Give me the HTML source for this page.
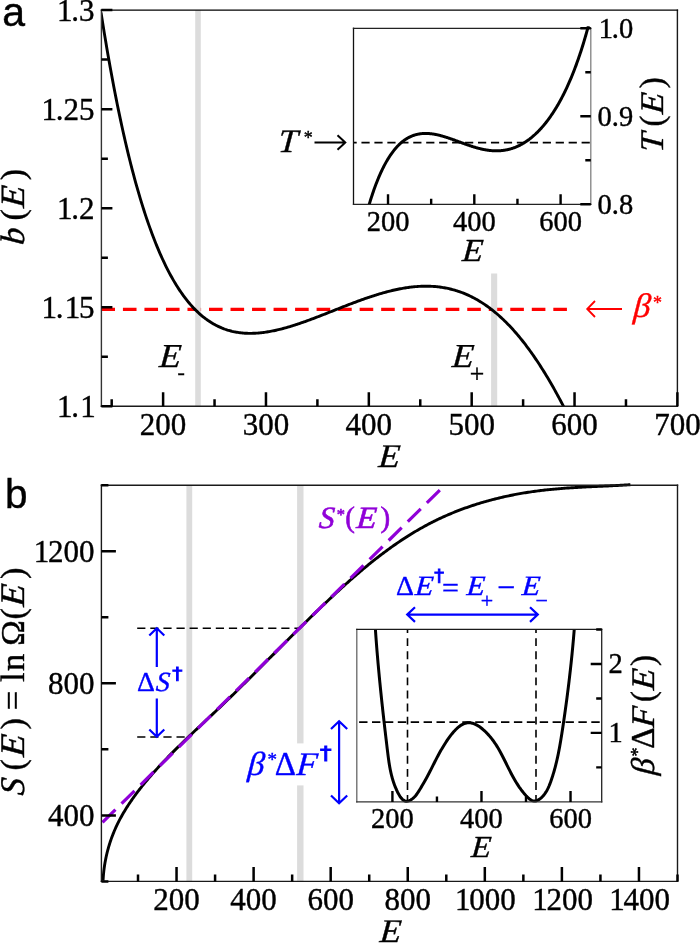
<!DOCTYPE html>
<html><head><meta charset="utf-8"><title>b(E) and S(E)</title>
<style>
html,body{margin:0;padding:0;background:#fff;}
svg{display:block;}
</style></head>
<body>
<svg width="700" height="943" viewBox="0 0 700 943" font-family="'Liberation Serif','Times New Roman',serif">
<rect width="700" height="943" fill="#fff"/>
<clipPath id="ca"><rect x="101.4" y="8.1" width="576.0" height="398.09999999999997"/></clipPath>
<line x1="101.4" y1="309.4" x2="567" y2="309.4" stroke="#ff0000" stroke-width="3.4" stroke-dasharray="13.6 7.92"/>
<rect x="195.2" y="10.1" width="5.6" height="396.09999999999997" fill="#dcdcdc"/>
<rect x="491.1" y="273.5" width="6.1" height="132.7" fill="#dcdcdc"/>
<path clip-path="url(#ca)" d="M101.00,12.46 L102.16,19.82 L103.32,27.04 L104.48,34.14 L105.64,41.11 L106.80,47.95 L107.96,54.67 L109.12,61.27 L110.28,67.74 L111.44,74.10 L112.60,80.34 L113.76,86.47 L114.92,92.48 L116.08,98.38 L117.24,104.17 L118.40,109.85 L119.56,115.42 L120.72,120.89 L121.88,126.25 L123.04,131.51 L124.20,136.67 L125.36,141.73 L126.52,146.69 L127.68,151.56 L128.84,156.33 L130.00,161.00 L131.16,165.58 L132.32,170.08 L133.48,174.48 L134.64,178.79 L135.80,183.02 L136.96,187.16 L138.12,191.21 L139.28,195.18 L140.44,199.07 L141.60,202.88 L142.76,206.61 L143.92,210.26 L145.08,213.84 L146.24,217.34 L147.40,220.76 L148.56,224.11 L149.72,227.39 L150.88,230.60 L152.04,233.73 L153.20,236.80 L154.36,239.80 L155.52,242.73 L156.68,245.60 L157.84,248.40 L158.99,251.14 L160.15,253.81 L161.31,256.42 L162.47,258.98 L163.63,261.47 L164.79,263.90 L165.95,266.28 L167.11,268.60 L168.27,270.86 L169.43,273.07 L170.59,275.22 L171.75,277.32 L172.91,279.37 L174.07,281.36 L175.23,283.31 L176.39,285.20 L177.55,287.05 L178.71,288.84 L179.87,290.59 L181.03,292.30 L182.19,293.95 L183.35,295.57 L184.51,297.13 L185.67,298.66 L186.83,300.14 L187.99,301.58 L189.15,302.98 L190.31,304.33 L191.47,305.65 L192.63,306.93 L193.79,308.17 L194.95,309.37 L196.11,310.53 L197.27,311.66 L198.43,312.75 L199.59,313.81 L200.75,314.83 L201.91,315.81 L203.07,316.77 L204.23,317.69 L205.39,318.57 L206.55,319.43 L207.71,320.26 L208.87,321.05 L210.03,321.81 L211.19,322.55 L212.35,323.25 L213.51,323.93 L214.67,324.58 L215.83,325.20 L216.99,325.80 L218.15,326.37 L219.31,326.91 L220.47,327.42 L221.63,327.92 L222.79,328.38 L223.95,328.83 L225.11,329.25 L226.27,329.64 L227.43,330.02 L228.59,330.37 L229.75,330.70 L230.91,331.01 L232.07,331.30 L233.23,331.56 L234.39,331.81 L235.55,332.04 L236.71,332.24 L237.87,332.43 L239.03,332.60 L240.19,332.75 L241.35,332.89 L242.51,333.00 L243.67,333.10 L244.83,333.19 L245.99,333.25 L247.15,333.30 L248.31,333.34 L249.47,333.35 L250.63,333.36 L251.79,333.35 L252.95,333.32 L254.11,333.28 L255.27,333.23 L256.43,333.16 L257.59,333.08 L258.75,332.98 L259.91,332.88 L261.07,332.76 L262.23,332.63 L263.39,332.49 L264.55,332.33 L265.71,332.17 L266.87,331.99 L268.03,331.80 L269.19,331.60 L270.35,331.40 L271.51,331.18 L272.67,330.95 L273.83,330.71 L274.98,330.46 L276.14,330.21 L277.30,329.94 L278.46,329.67 L279.62,329.39 L280.78,329.10 L281.94,328.80 L283.10,328.50 L284.26,328.18 L285.42,327.86 L286.58,327.54 L287.74,327.20 L288.90,326.86 L290.06,326.52 L291.22,326.16 L292.38,325.80 L293.54,325.44 L294.70,325.07 L295.86,324.69 L297.02,324.31 L298.18,323.93 L299.34,323.53 L300.50,323.14 L301.66,322.74 L302.82,322.33 L303.98,321.92 L305.14,321.51 L306.30,321.09 L307.46,320.67 L308.62,320.25 L309.78,319.82 L310.94,319.39 L312.10,318.96 L313.26,318.52 L314.42,318.09 L315.58,317.64 L316.74,317.20 L317.90,316.76 L319.06,316.31 L320.22,315.86 L321.38,315.41 L322.54,314.95 L323.70,314.50 L324.86,314.05 L326.02,313.59 L327.18,313.13 L328.34,312.67 L329.50,312.22 L330.66,311.76 L331.82,311.30 L332.98,310.84 L334.14,310.38 L335.30,309.92 L336.46,309.46 L337.62,309.00 L338.78,308.54 L339.94,308.09 L341.10,307.63 L342.26,307.17 L343.42,306.72 L344.58,306.27 L345.74,305.81 L346.90,305.36 L348.06,304.92 L349.22,304.47 L350.38,304.02 L351.54,303.58 L352.70,303.14 L353.86,302.70 L355.02,302.27 L356.18,301.84 L357.34,301.41 L358.50,300.98 L359.66,300.55 L360.82,300.13 L361.98,299.72 L363.14,299.30 L364.30,298.89 L365.46,298.49 L366.62,298.09 L367.78,297.69 L368.94,297.29 L370.10,296.90 L371.26,296.52 L372.42,296.14 L373.58,295.76 L374.74,295.39 L375.90,295.03 L377.06,294.67 L378.22,294.31 L379.38,293.96 L380.54,293.62 L381.70,293.28 L382.86,292.95 L384.02,292.63 L385.18,292.31 L386.34,291.99 L387.50,291.69 L388.66,291.39 L389.82,291.09 L390.97,290.81 L392.13,290.53 L393.29,290.26 L394.45,289.99 L395.61,289.74 L396.77,289.49 L397.93,289.25 L399.09,289.01 L400.25,288.79 L401.41,288.57 L402.57,288.36 L403.73,288.16 L404.89,287.97 L406.05,287.79 L407.21,287.62 L408.37,287.45 L409.53,287.30 L410.69,287.15 L411.85,287.02 L413.01,286.89 L414.17,286.78 L415.33,286.67 L416.49,286.58 L417.65,286.49 L418.81,286.42 L419.97,286.35 L421.13,286.30 L422.29,286.26 L423.45,286.23 L424.61,286.21 L425.77,286.20 L426.93,286.20 L428.09,286.22 L429.25,286.25 L430.41,286.29 L431.57,286.34 L432.73,286.41 L433.89,286.48 L435.05,286.57 L436.21,286.67 L437.37,286.79 L438.53,286.92 L439.69,287.06 L440.85,287.22 L442.01,287.39 L443.17,287.57 L444.33,287.77 L445.49,287.98 L446.65,288.20 L447.81,288.44 L448.97,288.70 L450.13,288.97 L451.29,289.25 L452.45,289.55 L453.61,289.87 L454.77,290.20 L455.93,290.54 L457.09,290.90 L458.25,291.28 L459.41,291.67 L460.57,292.08 L461.73,292.51 L462.89,292.95 L464.05,293.41 L465.21,293.88 L466.37,294.37 L467.53,294.88 L468.69,295.41 L469.85,295.95 L471.01,296.51 L472.17,297.09 L473.33,297.68 L474.49,298.30 L475.65,298.93 L476.81,299.58 L477.97,300.25 L479.13,300.93 L480.29,301.64 L481.45,302.36 L482.61,303.10 L483.77,303.86 L484.93,304.64 L486.09,305.44 L487.25,306.26 L488.41,307.10 L489.57,307.95 L490.73,308.83 L491.89,309.73 L493.05,310.64 L494.21,311.58 L495.37,312.53 L496.53,313.51 L497.69,314.51 L498.85,315.52 L500.01,316.56 L501.17,317.62 L502.33,318.70 L503.49,319.80 L504.65,320.92 L505.81,322.06 L506.96,323.22 L508.12,324.41 L509.28,325.61 L510.44,326.84 L511.60,328.08 L512.76,329.35 L513.92,330.64 L515.08,331.95 L516.24,333.29 L517.40,334.64 L518.56,336.02 L519.72,337.42 L520.88,338.84 L522.04,340.28 L523.20,341.75 L524.36,343.23 L525.52,344.74 L526.68,346.27 L527.84,347.83 L529.00,349.40 L530.16,351.00 L531.32,352.62 L532.48,354.26 L533.64,355.92 L534.80,357.61 L535.96,359.32 L537.12,361.05 L538.28,362.80 L539.44,364.57 L540.60,366.37 L541.76,368.19 L542.92,370.03 L544.08,371.89 L545.24,373.78 L546.40,375.68 L547.56,377.61 L548.72,379.56 L549.88,381.54 L551.04,383.53 L552.20,385.55 L553.36,387.58 L554.52,389.64 L555.68,391.73 L556.84,393.83 L558.00,395.95 L559.16,398.10 L560.32,400.26 L561.48,402.45 L562.64,404.66 L563.80,406.88" fill="none" stroke="#000" stroke-width="2.9"/>
<path d="M101.4,9.4V406.9" stroke="#333" stroke-width="1.4"/><path d="M677.4,9.4V406.9" stroke="#1a1a1a" stroke-width="1.4"/><path d="M100.7,10.1H678.1" stroke="#000" stroke-width="1.4"/><path d="M100.7,406.2H678.1" stroke="#1a1a1a" stroke-width="1.4"/>
<path d="M101.4,406.20h11 M101.4,356.69h6.5 M101.4,307.17h11 M101.4,257.66h6.5 M101.4,208.15h11 M101.4,158.64h6.5 M101.4,109.13h11 M101.4,59.61h6.5 M101.4,10.10h11 M111.69,406.2v-7 M163.11,406.2v-14 M214.54,406.2v-7 M265.97,406.2v-14 M317.40,406.2v-7 M368.83,406.2v-14 M420.26,406.2v-7 M471.69,406.2v-14 M523.11,406.2v-7 M574.54,406.2v-14 M625.97,406.2v-7 M677.40,406.2v-14" stroke="#000" stroke-width="2.5"/>
<text y="417.20" font-size="31" fill="#000" stroke="#000" stroke-width="0.4"><tspan x="57.05">1</tspan><tspan x="71.25">.</tspan><tspan x="80.30">1</tspan></text>
<text y="318.18" font-size="31" fill="#000" stroke="#000" stroke-width="0.4"><tspan x="41.55">1</tspan><tspan x="55.75">.</tspan><tspan x="64.80">1</tspan><tspan x="79.00">5</tspan></text>
<text y="219.15" font-size="31" fill="#000" stroke="#000" stroke-width="0.4"><tspan x="57.05">1</tspan><tspan x="71.25">.</tspan><tspan x="79.00">2</tspan></text>
<text y="120.13" font-size="31" fill="#000" stroke="#000" stroke-width="0.4"><tspan x="41.55">1</tspan><tspan x="55.75">.</tspan><tspan x="63.50">2</tspan><tspan x="79.00">5</tspan></text>
<text y="21.10" font-size="31" fill="#000" stroke="#000" stroke-width="0.4"><tspan x="57.05">1</tspan><tspan x="71.25">.</tspan><tspan x="79.00">3</tspan></text>
<text y="434.70" font-size="31" fill="#000" stroke="#000" stroke-width="0.4"><tspan x="139.86">2</tspan><tspan x="155.36">0</tspan><tspan x="170.86">0</tspan></text>
<text y="434.70" font-size="31" fill="#000" stroke="#000" stroke-width="0.4"><tspan x="242.72">3</tspan><tspan x="258.22">0</tspan><tspan x="273.72">0</tspan></text>
<text y="434.70" font-size="31" fill="#000" stroke="#000" stroke-width="0.4"><tspan x="345.58">4</tspan><tspan x="361.08">0</tspan><tspan x="376.58">0</tspan></text>
<text y="434.70" font-size="31" fill="#000" stroke="#000" stroke-width="0.4"><tspan x="448.44">5</tspan><tspan x="463.94">0</tspan><tspan x="479.44">0</tspan></text>
<text y="434.70" font-size="31" fill="#000" stroke="#000" stroke-width="0.4"><tspan x="551.29">6</tspan><tspan x="566.79">0</tspan><tspan x="582.29">0</tspan></text>
<text y="434.70" font-size="31" fill="#000" stroke="#000" stroke-width="0.4"><tspan x="654.15">7</tspan><tspan x="669.65">0</tspan><tspan x="685.15">0</tspan></text>
<text transform="translate(378.09,467.10) skewX(-4.5) scale(1.06,1)" font-size="33" font-style="italic" fill="#000" stroke="#000" stroke-width="0.4">E</text>
<text transform="translate(23.8,1000) rotate(-90) translate(754.76,0.00) skewX(-4.5) scale(1.0,1)" font-size="34" font-style="italic" fill="#000" stroke="#000" stroke-width="0.4">b</text><text transform="translate(23.8,1000) rotate(-90) translate(779.40,0.00) skewX(0) scale(1.0,1)" font-size="34" fill="#000" stroke="#000" stroke-width="0.4">(</text><text transform="translate(23.8,1000) rotate(-90) translate(791.79,0.00) skewX(-4.5) scale(1.06,1)" font-size="34" font-style="italic" fill="#000" stroke="#000" stroke-width="0.4">E</text><text transform="translate(23.8,1000) rotate(-90) translate(819.77,0.00) skewX(0) scale(1.0,1)" font-size="34" fill="#000" stroke="#000" stroke-width="0.4">)</text>
<text fill="#000" stroke="#000" stroke-width="0.4"><tspan x="177.43" y="379.00" font-size="22">-</tspan></text><text transform="translate(158.69,366.80) skewX(-4.5) scale(1.06,1)" font-size="33.5" font-style="italic" fill="#000" stroke="#000" stroke-width="0.4">E</text>
<text fill="#000" stroke="#000" stroke-width="0.4"><tspan x="469.65" y="382.20" font-size="25.7">+</tspan></text><text transform="translate(451.49,366.80) skewX(-4.5) scale(1.06,1)" font-size="33.5" font-style="italic" fill="#000" stroke="#000" stroke-width="0.4">E</text>
<path d="M622,309 H587.5 M595,301 L587.2,309 L595,317" fill="none" stroke="#ff0000" stroke-width="1.8"/>
<text fill="#ff0000" stroke="#ff0000" stroke-width="0.4"><tspan x="653.12" y="308.80" font-size="18">*</tspan></text><text transform="translate(633.06,317.00) skewX(-4.5) scale(1.0,1)" font-size="34" font-style="italic" fill="#ff0000" stroke="#ff0000" stroke-width="0.4">β</text>
<text fill="#000" stroke="#000" stroke-width="0.4"><tspan x="2.25" y="25.60" font-size="41" font-family="'Liberation Sans',Arial,sans-serif">a</tspan></text>
<clipPath id="cia"><rect x="353.5" y="26.3" width="237.29999999999995" height="178.0"/></clipPath>
<rect x="353.5" y="28.3" width="237.29999999999995" height="176.0" fill="#fff"/>
<line x1="353.5" y1="142.6" x2="590.8" y2="142.6" stroke="#000" stroke-width="1.6" stroke-dasharray="8.2 4.75" stroke-dashoffset="5"/>
<path clip-path="url(#cia)" d="M368.80,205.72 L369.35,203.88 L369.90,202.07 L370.45,200.30 L371.00,198.56 L371.55,196.85 L372.10,195.18 L372.65,193.54 L373.20,191.92 L373.75,190.34 L374.30,188.79 L374.85,187.28 L375.40,185.79 L375.95,184.33 L376.51,182.90 L377.06,181.49 L377.61,180.12 L378.16,178.77 L378.71,177.45 L379.26,176.16 L379.81,174.90 L380.36,173.66 L380.91,172.44 L381.46,171.25 L382.01,170.09 L382.56,168.95 L383.11,167.84 L383.66,166.75 L384.21,165.68 L384.76,164.64 L385.31,163.62 L385.86,162.62 L386.41,161.64 L386.96,160.69 L387.51,159.76 L388.06,158.85 L388.61,157.96 L389.16,157.09 L389.71,156.24 L390.26,155.41 L390.82,154.60 L391.37,153.81 L391.92,153.04 L392.47,152.29 L393.02,151.56 L393.57,150.85 L394.12,150.15 L394.67,149.47 L395.22,148.82 L395.77,148.17 L396.32,147.55 L396.87,146.94 L397.42,146.35 L397.97,145.77 L398.52,145.22 L399.07,144.67 L399.62,144.15 L400.17,143.63 L400.72,143.14 L401.27,142.66 L401.82,142.19 L402.37,141.74 L402.92,141.30 L403.47,140.88 L404.02,140.47 L404.57,140.08 L405.12,139.69 L405.68,139.33 L406.23,138.97 L406.78,138.63 L407.33,138.30 L407.88,137.98 L408.43,137.68 L408.98,137.39 L409.53,137.11 L410.08,136.84 L410.63,136.58 L411.18,136.33 L411.73,136.10 L412.28,135.88 L412.83,135.67 L413.38,135.46 L413.93,135.27 L414.48,135.09 L415.03,134.92 L415.58,134.76 L416.13,134.61 L416.68,134.47 L417.23,134.34 L417.78,134.22 L418.33,134.11 L418.88,134.01 L419.43,133.91 L419.98,133.83 L420.54,133.75 L421.09,133.68 L421.64,133.63 L422.19,133.57 L422.74,133.53 L423.29,133.50 L423.84,133.47 L424.39,133.45 L424.94,133.43 L425.49,133.43 L426.04,133.43 L426.59,133.44 L427.14,133.46 L427.69,133.48 L428.24,133.51 L428.79,133.54 L429.34,133.59 L429.89,133.63 L430.44,133.69 L430.99,133.75 L431.54,133.81 L432.09,133.89 L432.64,133.96 L433.19,134.05 L433.74,134.13 L434.29,134.23 L434.85,134.33 L435.40,134.43 L435.95,134.54 L436.50,134.65 L437.05,134.77 L437.60,134.89 L438.15,135.01 L438.70,135.14 L439.25,135.28 L439.80,135.41 L440.35,135.56 L440.90,135.70 L441.45,135.85 L442.00,136.00 L442.55,136.16 L443.10,136.32 L443.65,136.48 L444.20,136.64 L444.75,136.81 L445.30,136.98 L445.85,137.16 L446.40,137.33 L446.95,137.51 L447.50,137.69 L448.05,137.87 L448.60,138.06 L449.15,138.24 L449.71,138.43 L450.26,138.62 L450.81,138.81 L451.36,139.01 L451.91,139.20 L452.46,139.40 L453.01,139.60 L453.56,139.79 L454.11,139.99 L454.66,140.19 L455.21,140.39 L455.76,140.60 L456.31,140.80 L456.86,141.00 L457.41,141.20 L457.96,141.41 L458.51,141.61 L459.06,141.82 L459.61,142.02 L460.16,142.22 L460.71,142.43 L461.26,142.63 L461.81,142.83 L462.36,143.03 L462.91,143.23 L463.46,143.43 L464.02,143.63 L464.57,143.83 L465.12,144.03 L465.67,144.23 L466.22,144.42 L466.77,144.62 L467.32,144.81 L467.87,145.00 L468.42,145.19 L468.97,145.38 L469.52,145.57 L470.07,145.75 L470.62,145.93 L471.17,146.11 L471.72,146.29 L472.27,146.47 L472.82,146.64 L473.37,146.81 L473.92,146.98 L474.47,147.15 L475.02,147.31 L475.57,147.48 L476.12,147.63 L476.67,147.79 L477.22,147.94 L477.77,148.09 L478.32,148.24 L478.88,148.38 L479.43,148.52 L479.98,148.66 L480.53,148.79 L481.08,148.92 L481.63,149.05 L482.18,149.17 L482.73,149.29 L483.28,149.41 L483.83,149.52 L484.38,149.62 L484.93,149.73 L485.48,149.83 L486.03,149.92 L486.58,150.01 L487.13,150.10 L487.68,150.18 L488.23,150.26 L488.78,150.33 L489.33,150.40 L489.88,150.46 L490.43,150.52 L490.98,150.58 L491.53,150.63 L492.08,150.67 L492.63,150.71 L493.18,150.74 L493.74,150.77 L494.29,150.80 L494.84,150.82 L495.39,150.83 L495.94,150.84 L496.49,150.84 L497.04,150.84 L497.59,150.83 L498.14,150.82 L498.69,150.80 L499.24,150.77 L499.79,150.74 L500.34,150.70 L500.89,150.66 L501.44,150.61 L501.99,150.56 L502.54,150.50 L503.09,150.43 L503.64,150.36 L504.19,150.28 L504.74,150.19 L505.29,150.10 L505.84,150.01 L506.39,149.90 L506.94,149.79 L507.49,149.67 L508.05,149.55 L508.60,149.42 L509.15,149.28 L509.70,149.14 L510.25,148.99 L510.80,148.83 L511.35,148.67 L511.90,148.50 L512.45,148.32 L513.00,148.13 L513.55,147.94 L514.10,147.74 L514.65,147.54 L515.20,147.32 L515.75,147.10 L516.30,146.87 L516.85,146.64 L517.40,146.40 L517.95,146.15 L518.50,145.89 L519.05,145.62 L519.60,145.35 L520.15,145.07 L520.70,144.79 L521.25,144.49 L521.80,144.19 L522.35,143.88 L522.91,143.56 L523.46,143.23 L524.01,142.90 L524.56,142.56 L525.11,142.21 L525.66,141.85 L526.21,141.48 L526.76,141.11 L527.31,140.73 L527.86,140.34 L528.41,139.94 L528.96,139.53 L529.51,139.12 L530.06,138.69 L530.61,138.26 L531.16,137.82 L531.71,137.37 L532.26,136.91 L532.81,136.45 L533.36,135.97 L533.91,135.49 L534.46,134.99 L535.01,134.49 L535.56,133.98 L536.11,133.46 L536.66,132.93 L537.22,132.40 L537.77,131.85 L538.32,131.29 L538.87,130.73 L539.42,130.15 L539.97,129.57 L540.52,128.97 L541.07,128.37 L541.62,127.76 L542.17,127.13 L542.72,126.50 L543.27,125.86 L543.82,125.21 L544.37,124.54 L544.92,123.87 L545.47,123.19 L546.02,122.49 L546.57,121.79 L547.12,121.08 L547.67,120.35 L548.22,119.62 L548.77,118.87 L549.32,118.11 L549.87,117.34 L550.42,116.57 L550.97,115.77 L551.52,114.97 L552.08,114.16 L552.63,113.33 L553.18,112.50 L553.73,111.65 L554.28,110.79 L554.83,109.92 L555.38,109.03 L555.93,108.14 L556.48,107.23 L557.03,106.30 L557.58,105.37 L558.13,104.42 L558.68,103.46 L559.23,102.49 L559.78,101.50 L560.33,100.50 L560.88,99.48 L561.43,98.45 L561.98,97.41 L562.53,96.35 L563.08,95.28 L563.63,94.20 L564.18,93.10 L564.73,91.98 L565.28,90.85 L565.83,89.70 L566.38,88.54 L566.94,87.36 L567.49,86.16 L568.04,84.95 L568.59,83.72 L569.14,82.48 L569.69,81.22 L570.24,79.94 L570.79,78.64 L571.34,77.32 L571.89,75.99 L572.44,74.64 L572.99,73.27 L573.54,71.88 L574.09,70.47 L574.64,69.04 L575.19,67.59 L575.74,66.12 L576.29,64.63 L576.84,63.11 L577.39,61.58 L577.94,60.03 L578.49,58.45 L579.04,56.85 L579.59,55.23 L580.14,53.58 L580.69,51.91 L581.25,50.22 L581.80,48.50 L582.35,46.75 L582.90,44.99 L583.45,43.19 L584.00,41.37 L584.55,39.52 L585.10,37.65 L585.65,35.74 L586.20,33.81 L586.75,31.85 L587.30,29.86 L587.85,27.84 L588.40,25.80" fill="none" stroke="#000" stroke-width="3"/>
<path d="M353.5,27.650000000000002V204.95000000000002" stroke="#111" stroke-width="1.3"/><path d="M590.8,27.650000000000002V204.95000000000002" stroke="#808080" stroke-width="1.3"/><path d="M352.85,28.3H591.4499999999999" stroke="#222" stroke-width="1.3"/><path d="M352.85,204.3H591.4499999999999" stroke="#222" stroke-width="1.3"/>
<path d="M388.02,204.3v-10 M431.16,204.3v-5.5 M474.31,204.3v-10 M517.45,204.3v-5.5 M560.60,204.3v-10 M590.8,204.30h-10.5 M590.8,160.30h-5.5 M590.8,116.30h-10.5 M590.8,72.30h-5.5 M590.8,28.30h-10.5" stroke="#000" stroke-width="2.4"/>
<text y="231.00" font-size="28.5" fill="#000" stroke="#000" stroke-width="0.4"><tspan x="366.64">2</tspan><tspan x="380.89">0</tspan><tspan x="395.14">0</tspan></text>
<text y="231.00" font-size="28.5" fill="#000" stroke="#000" stroke-width="0.4"><tspan x="452.93">4</tspan><tspan x="467.18">0</tspan><tspan x="481.43">0</tspan></text>
<text y="231.00" font-size="28.5" fill="#000" stroke="#000" stroke-width="0.4"><tspan x="539.22">6</tspan><tspan x="553.47">0</tspan><tspan x="567.72">0</tspan></text>
<text y="213.80" font-size="28.5" fill="#000" stroke="#000" stroke-width="0.4"><tspan x="597.50">0</tspan><tspan x="611.75">.</tspan><tspan x="618.88">8</tspan></text>
<text y="125.80" font-size="28.5" fill="#000" stroke="#000" stroke-width="0.4"><tspan x="597.50">0</tspan><tspan x="611.75">.</tspan><tspan x="618.88">9</tspan></text>
<text y="37.80" font-size="28.5" fill="#000" stroke="#000" stroke-width="0.4"><tspan x="598.80">1</tspan><tspan x="611.75">.</tspan><tspan x="618.88">0</tspan></text>
<text transform="translate(461.79,260.90) skewX(-4.5) scale(1.06,1)" font-size="32" font-style="italic" fill="#000" stroke="#000" stroke-width="0.4">E</text>
<text transform="translate(662.5,1000) rotate(-90) translate(847.27,0.00) skewX(-4.5) scale(1.05,1)" font-size="33" font-style="italic" fill="#000" stroke="#000" stroke-width="0.4">T</text><text transform="translate(662.5,1000) rotate(-90) translate(873.50,0.00) skewX(0) scale(1.0,1)" font-size="33" fill="#000" stroke="#000" stroke-width="0.4">(</text><text transform="translate(662.5,1000) rotate(-90) translate(885.39,0.00) skewX(-4.5) scale(1.06,1)" font-size="33" font-style="italic" fill="#000" stroke="#000" stroke-width="0.4">E</text><text transform="translate(662.5,1000) rotate(-90) translate(911.77,0.00) skewX(0) scale(1.0,1)" font-size="33" fill="#000" stroke="#000" stroke-width="0.4">)</text>
<text fill="#000" stroke="#000" stroke-width="0.4"><tspan x="303.82" y="143.60" font-size="18">*</tspan></text><text transform="translate(277.87,151.50) skewX(-4.5) scale(1.05,1)" font-size="33" font-style="italic" fill="#000" stroke="#000" stroke-width="0.4">T</text>
<path d="M314.5,142.5 H345 M337.5,135.2 L345.3,142.5 L337.5,149.8" fill="none" stroke="#000" stroke-width="2"/>
<rect x="186.4" y="485.3" width="5.8" height="396.09999999999997" fill="#dcdcdc"/>
<rect x="297.1" y="485.3" width="6.4" height="396.09999999999997" fill="#dcdcdc"/>
<line x1="137.2" y1="628.2" x2="300" y2="628.2" stroke="#000" stroke-width="1.6" stroke-dasharray="8.2 4.9"/>
<line x1="137.2" y1="737" x2="189" y2="737" stroke="#000" stroke-width="1.6" stroke-dasharray="8.2 4.9"/>
<path d="M103.06,880.66 L103.13,879.23 L103.22,877.80 L103.32,876.38 L103.43,874.96 L103.56,873.54 L103.70,872.12 L103.86,870.70 L104.02,869.29 L104.21,867.88 L104.41,866.48 L104.62,865.08 L104.84,863.68 L105.08,862.28 L105.33,860.89 L105.60,859.50 L105.88,858.11 L106.17,856.73 L106.47,855.35 L106.79,853.97 L107.12,852.60 L107.47,851.24 L107.83,849.87 L108.20,848.51 L108.58,847.16 L108.98,845.81 L109.39,844.46 L109.82,843.12 L110.25,841.79 L110.70,840.46 L111.16,839.13 L111.64,837.81 L112.12,836.49 L112.62,835.18 L113.13,833.88 L113.66,832.58 L114.19,831.29 L114.74,830.00 L115.30,828.72 L115.87,827.44 L116.46,826.17 L117.06,824.90 L117.66,823.65 L118.28,822.39 L118.92,821.15 L119.56,819.91 L120.21,818.67 L120.88,817.44 L121.55,816.22 L122.24,815.00 L122.93,813.79 L123.63,812.58 L124.35,811.38 L125.07,810.19 L125.81,809.00 L126.55,807.81 L127.30,806.63 L128.06,805.46 L128.83,804.29 L129.60,803.12 L130.39,801.96 L131.18,800.81 L131.98,799.66 L132.79,798.51 L133.60,797.37 L134.42,796.24 L135.25,795.10 L136.08,793.98 L136.92,792.85 L137.77,791.74 L138.62,790.62 L139.48,789.51 L140.34,788.41 L141.21,787.31 L142.08,786.21 L142.96,785.12 L143.84,784.03 L144.73,782.94 L145.62,781.86 L146.52,780.78 L147.42,779.71 L148.33,778.64 L149.24,777.57 L150.15,776.50 L151.07,775.44 L151.99,774.39 L152.92,773.33 L153.85,772.28 L154.78,771.24 L155.72,770.19 L156.66,769.15 L157.61,768.12 L158.56,767.08 L159.51,766.05 L160.46,765.02 L161.42,763.99 L162.39,762.97 L163.35,761.95 L164.32,760.93 L165.29,759.91 L166.27,758.90 L167.24,757.89 L168.22,756.88 L169.21,755.87 L170.19,754.87 L171.18,753.87 L172.17,752.87 L173.16,751.87 L174.16,750.87 L175.15,749.88 L176.15,748.89 L177.15,747.90 L178.16,746.91 L179.16,745.92 L180.17,744.94 L181.18,743.95 L182.19,742.97 L183.20,741.99 L184.22,741.01 L185.23,740.03 L186.25,739.06 L187.27,738.08 L188.29,737.11 L189.31,736.13 L190.33,735.16 L191.35,734.19 L192.37,733.22 L193.40,732.25 L194.42,731.28 L195.45,730.31 L196.48,729.34 L197.50,728.37 L198.53,727.41 L199.56,726.44 L200.59,725.47 L201.61,724.51 L202.64,723.54 L203.67,722.58 L204.70,721.61 L205.73,720.65 L206.76,719.68 L207.78,718.72 L208.81,717.75 L209.84,716.79 L210.87,715.82 L211.89,714.86 L212.92,713.89 L213.94,712.92 L214.97,711.96 L215.99,710.99 L217.01,710.02 L218.04,709.05 L219.06,708.08 L220.08,707.11 L221.09,706.14 L222.11,705.17 L223.13,704.20 L224.14,703.22 L225.15,702.25 L226.17,701.27 L227.18,700.30 L228.19,699.32 L229.20,698.34 L230.20,697.36 L231.21,696.38 L232.22,695.40 L233.22,694.42 L234.23,693.44 L235.23,692.46 L236.23,691.48 L237.23,690.50 L238.23,689.51 L239.23,688.53 L240.23,687.55 L241.23,686.56 L242.23,685.58 L243.22,684.59 L244.22,683.60 L245.21,682.62 L246.21,681.63 L247.20,680.64 L248.20,679.65 L249.19,678.66 L250.18,677.68 L251.17,676.69 L252.16,675.70 L253.15,674.71 L254.14,673.72 L255.13,672.73 L256.12,671.73 L257.11,670.74 L258.10,669.75 L259.09,668.76 L260.08,667.77 L261.06,666.78 L262.05,665.78 L263.04,664.79 L264.03,663.80 L265.01,662.81 L266.00,661.81 L266.98,660.82 L267.97,659.83 L268.96,658.83 L269.94,657.84 L270.93,656.85 L271.92,655.85 L272.90,654.86 L273.89,653.87 L274.87,652.88 L275.86,651.88 L276.85,650.89 L277.83,649.90 L278.82,648.90 L279.81,647.91 L280.79,646.92 L281.78,645.93 L282.77,644.93 L283.76,643.94 L284.74,642.95 L285.73,641.96 L286.72,640.97 L287.71,639.97 L288.70,638.98 L289.69,637.99 L290.68,637.00 L291.67,636.01 L292.66,635.02 L293.65,634.03 L294.64,633.04 L295.64,632.06 L296.63,631.07 L297.63,630.08 L298.62,629.09 L299.61,628.11 L300.61,627.12 L301.61,626.13 L302.61,625.15 L303.60,624.16 L304.60,623.18 L305.60,622.19 L306.60,621.21 L307.60,620.23 L308.61,619.25 L309.61,618.26 L310.61,617.28 L311.62,616.30 L312.62,615.32 L313.63,614.34 L314.64,613.37 L315.65,612.39 L316.66,611.41 L317.67,610.43 L318.68,609.46 L319.70,608.48 L320.71,607.51 L321.73,606.54 L322.74,605.57 L323.76,604.59 L324.78,603.62 L325.80,602.65 L326.82,601.69 L327.85,600.72 L328.87,599.75 L329.90,598.78 L330.93,597.82 L331.96,596.86 L332.99,595.89 L334.02,594.93 L335.05,593.97 L336.09,593.01 L337.12,592.05 L338.16,591.10 L339.20,590.14 L340.24,589.19 L341.29,588.24 L342.33,587.29 L343.38,586.34 L344.42,585.39 L345.47,584.45 L346.53,583.51 L347.58,582.57 L348.63,581.63 L349.69,580.69 L350.75,579.76 L351.81,578.82 L352.87,577.89 L353.94,576.96 L355.00,576.04 L356.07,575.12 L357.14,574.19 L358.21,573.28 L359.29,572.36 L360.36,571.45 L361.44,570.54 L362.52,569.63 L363.60,568.72 L364.69,567.82 L365.77,566.92 L366.86,566.03 L367.95,565.13 L369.04,564.24 L370.14,563.36 L371.24,562.47 L372.34,561.59 L373.44,560.71 L374.54,559.84 L375.65,558.97 L376.76,558.10 L377.87,557.24 L378.98,556.38 L380.10,555.52 L381.22,554.67 L382.34,553.82 L383.46,552.98 L384.59,552.14 L385.72,551.30 L386.85,550.47 L387.98,549.64 L389.12,548.82 L390.26,547.99 L391.40,547.18 L392.54,546.37 L393.69,545.56 L394.84,544.76 L395.99,543.96 L397.15,543.16 L398.30,542.37 L399.46,541.59 L400.63,540.81 L401.79,540.03 L402.96,539.26 L404.13,538.50 L405.31,537.74 L406.49,536.98 L407.67,536.23 L408.85,535.48 L410.04,534.74 L411.23,534.01 L412.42,533.28 L413.62,532.55 L414.82,531.84 L416.02,531.12 L417.22,530.41 L418.43,529.71 L419.64,529.01 L420.86,528.32 L422.07,527.64 L423.29,526.96 L424.52,526.28 L425.75,525.62 L426.98,524.95 L428.21,524.30 L429.45,523.65 L430.69,523.00 L431.93,522.37 L433.18,521.74 L434.43,521.11 L435.69,520.49 L436.94,519.88 L438.21,519.27 L439.47,518.67 L440.74,518.08 L442.01,517.49 L443.28,516.91 L444.56,516.34 L445.84,515.77 L447.12,515.21 L448.41,514.65 L449.70,514.10 L450.99,513.56 L452.29,513.02 L453.59,512.49 L454.89,511.97 L456.19,511.45 L457.50,510.93 L458.81,510.43 L460.12,509.93 L461.43,509.43 L462.75,508.94 L464.07,508.46 L465.39,507.98 L466.72,507.51 L468.05,507.05 L469.37,506.59 L470.71,506.14 L472.04,505.69 L473.38,505.25 L474.72,504.82 L476.06,504.39 L477.40,503.96 L478.74,503.55 L480.09,503.13 L481.44,502.73 L482.79,502.33 L484.14,501.93 L485.50,501.55 L486.85,501.16 L488.21,500.79 L489.57,500.41 L490.93,500.05 L492.30,499.69 L493.66,499.33 L495.03,498.99 L496.40,498.64 L497.76,498.31 L499.14,497.97 L500.51,497.65 L501.88,497.33 L503.26,497.01 L504.63,496.70 L506.01,496.40 L507.39,496.10 L508.77,495.81 L510.15,495.52 L511.53,495.24 L512.92,494.96 L514.30,494.69 L515.69,494.42 L517.07,494.16 L518.46,493.91 L519.85,493.66 L521.23,493.41 L522.62,493.17 L524.01,492.94 L525.40,492.71 L526.80,492.49 L528.19,492.27 L529.58,492.06 L530.97,491.85 L532.37,491.64 L533.76,491.45 L535.15,491.26 L536.55,491.07 L537.94,490.89 L539.34,490.71 L540.73,490.54 L542.13,490.37 L543.53,490.21 L544.92,490.05 L546.32,489.90 L547.72,489.75 L549.11,489.61 L550.51,489.47 L551.91,489.33 L553.30,489.20 L554.70,489.07 L556.10,488.94 L557.50,488.82 L558.90,488.71 L560.30,488.59 L561.70,488.48 L563.09,488.37 L564.49,488.27 L565.89,488.17 L567.29,488.07 L568.69,487.97 L570.09,487.88 L571.49,487.79 L572.89,487.70 L574.29,487.61 L575.69,487.53 L577.10,487.44 L578.50,487.36 L579.90,487.29 L581.30,487.21 L582.70,487.13 L584.10,487.06 L585.50,486.99 L586.90,486.92 L588.31,486.85 L589.71,486.78 L591.11,486.71 L592.51,486.64 L593.92,486.58 L595.32,486.51 L596.72,486.45 L598.12,486.38 L599.53,486.32 L600.93,486.25 L602.33,486.19 L603.73,486.12 L605.14,486.06 L606.54,485.99 L607.94,485.93 L609.35,485.86 L610.75,485.79 L612.15,485.73 L613.55,485.66 L614.96,485.59 L616.36,485.52 L617.76,485.44 L619.17,485.37 L620.57,485.30 L621.97,485.22 L623.38,485.14 L624.78,485.06 L626.18,484.98 L627.59,484.90 L628.99,484.81 L630.39,484.73" fill="none" stroke="#000" stroke-width="2.9"/>
<line x1="101.4" y1="823.4" x2="441.5" y2="488.5" stroke="#9000d8" stroke-width="3.2" stroke-dasharray="18.2 8.58" stroke-dashoffset="-1.5"/>
<path d="M101.4,484.6V882.1" stroke="#1a1a1a" stroke-width="1.4"/><path d="M677.5,484.6V882.1" stroke="#1a1a1a" stroke-width="1.4"/><path d="M100.7,485.3H678.2" stroke="#1a1a1a" stroke-width="1.4"/><path d="M100.7,881.4H678.2" stroke="#1a1a1a" stroke-width="1.4"/>
<path d="M101.4,881.40h7 M101.4,815.38h14.5 M101.4,749.37h7 M101.4,683.35h14.5 M101.4,617.33h7 M101.4,551.32h14.5 M101.4,485.30h7 M138.01,881.4v-7 M176.54,881.4v-14.5 M215.08,881.4v-7 M253.61,881.4v-14.5 M292.15,881.4v-7 M330.68,881.4v-14.5 M369.22,881.4v-7 M407.75,881.4v-14.5 M446.29,881.4v-7 M484.82,881.4v-14.5 M523.36,881.4v-7 M561.89,881.4v-14.5 M600.43,881.4v-7 M638.96,881.4v-14.5 M677.50,881.4v-7" stroke="#000" stroke-width="2.5"/>
<text y="826.38" font-size="31" fill="#000" stroke="#000" stroke-width="0.4"><tspan x="48.00">4</tspan><tspan x="63.50">0</tspan><tspan x="79.00">0</tspan></text>
<text y="694.35" font-size="31" fill="#000" stroke="#000" stroke-width="0.4"><tspan x="48.00">8</tspan><tspan x="63.50">0</tspan><tspan x="79.00">0</tspan></text>
<text y="562.32" font-size="31" fill="#000" stroke="#000" stroke-width="0.4"><tspan x="33.80">1</tspan><tspan x="48.00">2</tspan><tspan x="63.50">0</tspan><tspan x="79.00">0</tspan></text>
<text y="909.50" font-size="31" fill="#000" stroke="#000" stroke-width="0.4"><tspan x="153.29">2</tspan><tspan x="168.79">0</tspan><tspan x="184.29">0</tspan></text>
<text y="909.50" font-size="31" fill="#000" stroke="#000" stroke-width="0.4"><tspan x="230.36">4</tspan><tspan x="245.86">0</tspan><tspan x="261.36">0</tspan></text>
<text y="909.50" font-size="31" fill="#000" stroke="#000" stroke-width="0.4"><tspan x="307.43">6</tspan><tspan x="322.93">0</tspan><tspan x="338.43">0</tspan></text>
<text y="909.50" font-size="31" fill="#000" stroke="#000" stroke-width="0.4"><tspan x="384.50">8</tspan><tspan x="400.00">0</tspan><tspan x="415.50">0</tspan></text>
<text y="909.50" font-size="31" fill="#000" stroke="#000" stroke-width="0.4"><tspan x="455.12">1</tspan><tspan x="469.32">0</tspan><tspan x="484.82">0</tspan><tspan x="500.32">0</tspan></text>
<text y="909.50" font-size="31" fill="#000" stroke="#000" stroke-width="0.4"><tspan x="532.19">1</tspan><tspan x="546.39">2</tspan><tspan x="561.89">0</tspan><tspan x="577.39">0</tspan></text>
<text y="909.50" font-size="31" fill="#000" stroke="#000" stroke-width="0.4"><tspan x="609.26">1</tspan><tspan x="623.46">4</tspan><tspan x="638.96">0</tspan><tspan x="654.46">0</tspan></text>
<text transform="translate(379.29,942.30) skewX(-4.5) scale(1.06,1)" font-size="33" font-style="italic" fill="#000" stroke="#000" stroke-width="0.4">E</text>
<text transform="translate(24.1,1000) rotate(-90) translate(204.32,0.00) skewX(-4.5) scale(1.0,1)" font-size="34.5" font-style="italic" fill="#000" stroke="#000" stroke-width="0.4">S</text><text transform="translate(24.1,1000) rotate(-90) translate(229.40,0.00) skewX(0) scale(1.0,1)" font-size="34.5" fill="#000" stroke="#000" stroke-width="0.4">(</text><text transform="translate(24.1,1000) rotate(-90) translate(242.79,0.00) skewX(-4.5) scale(1.06,1)" font-size="34.5" font-style="italic" fill="#000" stroke="#000" stroke-width="0.4">E</text><text transform="translate(24.1,1000) rotate(-90) translate(270.48,0.00) skewX(0) scale(1.0,1)" font-size="34.5" fill="#000" stroke="#000" stroke-width="0.4">)</text><text transform="translate(24.1,1000) rotate(-90) translate(289.65,0.00) skewX(0) scale(1.0,1)" font-size="34.5" fill="#000" stroke="#000" stroke-width="0.4">=</text><text transform="translate(24.1,1000) rotate(-90) translate(317.95,0.00) skewX(0) scale(1.0,1)" font-size="34.5" fill="#000" stroke="#000" stroke-width="0.4">l</text><text transform="translate(24.1,1000) rotate(-90) translate(329.05,0.00) skewX(0) scale(1.0,1)" font-size="34.5" fill="#000" stroke="#000" stroke-width="0.4">n</text><text transform="translate(24.1,1000) rotate(-90) translate(354.15,0.00) skewX(0) scale(1.0,1)" font-size="34.5" fill="#000" stroke="#000" stroke-width="0.4">Ω</text><text transform="translate(24.1,1000) rotate(-90) translate(380.60,0.00) skewX(0) scale(1.0,1)" font-size="34.5" fill="#000" stroke="#000" stroke-width="0.4">(</text><text transform="translate(24.1,1000) rotate(-90) translate(392.89,0.00) skewX(-4.5) scale(1.06,1)" font-size="34.5" font-style="italic" fill="#000" stroke="#000" stroke-width="0.4">E</text><text transform="translate(24.1,1000) rotate(-90) translate(420.98,0.00) skewX(0) scale(1.0,1)" font-size="34.5" fill="#000" stroke="#000" stroke-width="0.4">)</text>
<text fill="#000" stroke="#000" stroke-width="0.4"><tspan x="5.12" y="507.60" font-size="40.5" font-family="'Liberation Sans',Arial,sans-serif">b</tspan></text>
<text fill="#9000d8" stroke="#9000d8" stroke-width="0.6"><tspan x="336.73" y="520.40" font-size="16.5">*</tspan><tspan x="345.35" y="526.50" font-size="29">(</tspan><tspan x="380.52" y="526.50" font-size="29">)</tspan></text><text transform="translate(318.53,527.60) skewX(-4.5) scale(1.0,1)" font-size="31" font-style="italic" fill="#9000d8" stroke="#9000d8" stroke-width="0.6">S</text><text transform="translate(355.99,527.60) skewX(-4.5) scale(1.06,1)" font-size="31" font-style="italic" fill="#9000d8" stroke="#9000d8" stroke-width="0.6">E</text>
<path d="M156.8,666.9 V629.5 M149.3,635.5 L156.8,628.3 L164.3,635.5 M156.8,698.6 V736 M149.3,729.5 L156.8,736.7 L164.3,729.5" fill="none" stroke="#0000ff" stroke-width="2.2"/>
<text fill="#0000ff" stroke="#0000ff" stroke-width="0.4"><tspan x="136.90" y="690.60" font-size="27.8">Δ</tspan></text><text transform="translate(155.55,690.60) skewX(-4.5) scale(1.0,1)" font-size="27.8" font-style="italic" fill="#0000ff" stroke="#0000ff" stroke-width="0.4">S</text>
<text transform="translate(172.30,680.30) skewX(0) scale(1.2,1)" font-size="17" font-family="'DejaVu Sans',sans-serif" fill="#0000ff" stroke="#0000ff" stroke-width="0.8">†</text>
<rect x="244" y="743.4" width="88" height="42" fill="#fff"/>
<text fill="#0000ff" stroke="#0000ff" stroke-width="0.4"><tspan x="267.40" y="766.10" font-size="19">*</tspan><tspan x="274.75" y="774.80" font-size="33">Δ</tspan></text><text transform="translate(247.15,774.80) skewX(-4.5) scale(1.0,1)" font-size="33.5" font-style="italic" fill="#0000ff" stroke="#0000ff" stroke-width="0.4">β</text><text transform="translate(296.12,774.80) skewX(-4.5) scale(1.03,1)" font-size="33" font-style="italic" fill="#0000ff" stroke="#0000ff" stroke-width="0.4">F</text>
<text transform="translate(320.00,760.00) skewX(0) scale(1.2,1)" font-size="19.2" font-family="'DejaVu Sans',sans-serif" fill="#0000ff" stroke="#0000ff" stroke-width="0.9">†</text>
<path d="M339.1,722 V802.5 M331,729 L339.1,721.2 L347.2,729 M331,795.5 L339.1,803.3 L347.2,795.5" fill="none" stroke="#0000ff" stroke-width="2.2"/>
<text fill="#0000ff" stroke="#0000ff" stroke-width="0.4"><tspan x="395.98" y="594.90" font-size="28">Δ</tspan><tspan x="441.90" y="597.70" font-size="30">=</tspan><tspan x="480.77" y="608.30" font-size="22">+</tspan><tspan x="496.98" y="598.30" font-size="32">−</tspan><tspan x="535.38" y="607.50" font-size="22">−</tspan></text><text transform="translate(414.69,594.90) skewX(-4.5) scale(1.06,1)" font-size="28" font-style="italic" fill="#0000ff" stroke="#0000ff" stroke-width="0.4">E</text><text transform="translate(466.19,594.80) skewX(-4.5) scale(1.06,1)" font-size="28" font-style="italic" fill="#0000ff" stroke="#0000ff" stroke-width="0.4">E</text><text transform="translate(521.49,594.80) skewX(-4.5) scale(1.06,1)" font-size="28" font-style="italic" fill="#0000ff" stroke="#0000ff" stroke-width="0.4">E</text>
<text transform="translate(434.32,582.00) skewX(0) scale(1.15,1)" font-size="17" font-family="'DejaVu Sans',sans-serif" fill="#0000ff" stroke="#0000ff" stroke-width="0.8">†</text>
<path d="M407.5,614.6 H537 M415,607.3 L407.2,614.6 L415,621.9 M530,607.3 L537.8,614.6 L530,621.9" fill="none" stroke="#0000ff" stroke-width="2.2"/>
<clipPath id="cib"><rect x="356.8" y="629.45" width="244.90000000000003" height="175.44999999999993"/></clipPath>
<rect x="356.8" y="629.45" width="244.90000000000003" height="172.44999999999993" fill="#fff"/>
<path d="M407.5,629.45V801.9 M536,629.45V801.9" stroke="#000" stroke-width="1.6" stroke-dasharray="7.9 5.17" stroke-dashoffset="4.3" fill="none"/>
<path d="M356.8,722.1H601.7" stroke="#000" stroke-width="1.6" stroke-dasharray="8.4 4.5" stroke-dashoffset="-2.3" fill="none"/>
<path clip-path="url(#cib)" d="M375.44,629.79 L375.51,630.93 L375.59,632.07 L375.67,633.21 L375.75,634.34 L375.83,635.48 L375.91,636.62 L376.00,637.76 L376.08,638.90 L376.17,640.03 L376.25,641.17 L376.34,642.31 L376.42,643.45 L376.51,644.58 L376.60,645.72 L376.69,646.86 L376.78,648.00 L376.87,649.13 L376.96,650.27 L377.05,651.41 L377.15,652.54 L377.24,653.68 L377.34,654.81 L377.43,655.95 L377.53,657.09 L377.63,658.22 L377.72,659.36 L377.82,660.49 L377.92,661.63 L378.02,662.76 L378.12,663.90 L378.22,665.03 L378.33,666.17 L378.43,667.30 L378.53,668.44 L378.64,669.57 L378.74,670.71 L378.85,671.84 L378.95,672.97 L379.06,674.11 L379.17,675.24 L379.27,676.38 L379.38,677.51 L379.49,678.64 L379.60,679.78 L379.71,680.91 L379.82,682.04 L379.94,683.18 L380.05,684.31 L380.16,685.44 L380.27,686.58 L380.39,687.71 L380.50,688.84 L380.62,689.98 L380.73,691.11 L380.85,692.24 L380.97,693.38 L381.09,694.51 L381.20,695.64 L381.32,696.77 L381.44,697.91 L381.56,699.04 L381.68,700.17 L381.80,701.30 L381.92,702.44 L382.04,703.57 L382.17,704.70 L382.29,705.83 L382.41,706.96 L382.53,708.10 L382.66,709.23 L382.78,710.36 L382.91,711.49 L383.03,712.62 L383.16,713.76 L383.29,714.89 L383.41,716.02 L383.54,717.15 L383.67,718.28 L383.79,719.42 L383.92,720.55 L384.05,721.68 L384.18,722.81 L384.31,723.94 L384.44,725.08 L384.57,726.21 L384.70,727.34 L384.83,728.47 L384.96,729.60 L385.09,730.73 L385.23,731.87 L385.36,733.00 L385.49,734.13 L385.62,735.26 L385.76,736.39 L385.89,737.53 L386.02,738.66 L386.16,739.79 L386.29,740.92 L386.43,742.05 L386.56,743.19 L386.70,744.32 L386.83,745.45 L386.97,746.58 L387.10,747.71 L387.24,748.85 L387.38,749.98 L387.51,751.11 L387.65,752.24 L387.79,753.37 L387.93,754.51 L388.07,755.64 L388.22,756.77 L388.37,757.90 L388.52,759.03 L388.68,760.16 L388.84,761.29 L389.01,762.41 L389.19,763.54 L389.37,764.67 L389.56,765.79 L389.75,766.91 L389.96,768.04 L390.17,769.16 L390.39,770.28 L390.63,771.39 L390.87,772.51 L391.12,773.62 L391.39,774.74 L391.67,775.85 L391.96,776.95 L392.26,778.06 L392.58,779.17 L392.91,780.27 L393.26,781.37 L393.62,782.46 L394.00,783.56 L394.39,784.65 L394.80,785.74 L395.23,786.83 L395.68,787.91 L396.14,788.99 L396.63,790.07 L397.13,791.14 L397.65,792.21 L398.20,793.28 L398.77,794.32 L399.36,795.34 L399.97,796.32 L400.61,797.24 L401.29,798.10 L401.98,798.88 L402.72,799.57 L403.48,800.15 L404.27,800.62 L405.11,800.96 L405.97,801.16 L406.88,801.21 L407.82,801.11 L408.79,800.85 L409.76,800.47 L410.74,799.97 L411.70,799.36 L412.62,798.67 L413.51,797.90 L414.36,797.07 L415.18,796.17 L415.96,795.23 L416.71,794.25 L417.44,793.23 L418.14,792.19 L418.82,791.13 L419.49,790.06 L420.14,789.00 L420.78,787.94 L421.40,786.88 L422.02,785.84 L422.63,784.80 L423.23,783.77 L423.82,782.75 L424.40,781.73 L424.97,780.72 L425.53,779.71 L426.09,778.70 L426.64,777.70 L427.18,776.71 L427.71,775.71 L428.23,774.72 L428.75,773.74 L429.27,772.75 L429.78,771.77 L430.28,770.79 L430.78,769.81 L431.28,768.83 L431.77,767.86 L432.27,766.88 L432.76,765.91 L433.25,764.94 L433.74,763.97 L434.23,763.00 L434.72,762.02 L435.22,761.05 L435.71,760.08 L436.21,759.11 L436.72,758.14 L437.22,757.17 L437.74,756.20 L438.25,755.23 L438.78,754.26 L439.31,753.28 L439.85,752.31 L440.39,751.33 L440.95,750.35 L441.51,749.37 L442.09,748.39 L442.67,747.41 L443.27,746.42 L443.88,745.43 L444.50,744.44 L445.13,743.45 L445.78,742.45 L446.44,741.45 L447.11,740.44 L447.80,739.44 L448.51,738.43 L449.24,737.42 L449.97,736.41 L450.73,735.41 L451.50,734.43 L452.28,733.46 L453.07,732.51 L453.88,731.58 L454.71,730.68 L455.54,729.80 L456.39,728.96 L457.25,728.16 L458.12,727.40 L459.00,726.68 L459.90,726.00 L460.80,725.38 L461.72,724.82 L462.64,724.31 L463.57,723.86 L464.52,723.48 L465.47,723.17 L466.43,722.93 L467.40,722.77 L468.38,722.69 L469.36,722.69 L470.35,722.77 L471.35,722.94 L472.34,723.18 L473.35,723.49 L474.35,723.86 L475.34,724.30 L476.34,724.80 L477.33,725.35 L478.31,725.95 L479.29,726.59 L480.26,727.28 L481.21,728.00 L482.15,728.76 L483.08,729.54 L483.99,730.35 L484.88,731.17 L485.76,732.02 L486.61,732.87 L487.44,733.73 L488.25,734.61 L489.04,735.49 L489.81,736.37 L490.56,737.27 L491.29,738.17 L492.01,739.08 L492.70,740.00 L493.39,740.92 L494.05,741.85 L494.70,742.79 L495.34,743.74 L495.96,744.68 L496.58,745.64 L497.18,746.60 L497.76,747.56 L498.34,748.53 L498.91,749.51 L499.47,750.49 L500.02,751.47 L500.56,752.46 L501.09,753.45 L501.62,754.45 L502.14,755.45 L502.66,756.45 L503.17,757.45 L503.68,758.46 L504.19,759.47 L504.69,760.48 L505.20,761.49 L505.70,762.51 L506.20,763.52 L506.70,764.54 L507.20,765.56 L507.71,766.58 L508.22,767.60 L508.72,768.62 L509.24,769.63 L509.75,770.65 L510.27,771.67 L510.80,772.68 L511.32,773.70 L511.86,774.71 L512.40,775.72 L512.95,776.72 L513.50,777.72 L514.07,778.72 L514.64,779.72 L515.22,780.71 L515.80,781.70 L516.40,782.68 L517.01,783.66 L517.63,784.63 L518.26,785.60 L518.91,786.56 L519.56,787.52 L520.23,788.46 L520.91,789.41 L521.61,790.34 L522.32,791.27 L523.05,792.19 L523.79,793.10 L524.55,794.00 L525.32,794.89 L526.11,795.78 L526.92,796.64 L527.75,797.46 L528.59,798.24 L529.44,798.95 L530.32,799.58 L531.21,800.12 L532.11,800.56 L533.03,800.87 L533.96,801.05 L534.90,801.07 L535.86,800.94 L536.83,800.65 L537.79,800.22 L538.75,799.68 L539.69,799.04 L540.60,798.33 L541.48,797.55 L542.31,796.73 L543.10,795.88 L543.85,795.00 L544.56,794.09 L545.23,793.15 L545.86,792.19 L546.47,791.21 L547.04,790.20 L547.58,789.18 L548.09,788.14 L548.58,787.08 L549.05,786.02 L549.49,784.94 L549.92,783.85 L550.34,782.75 L550.74,781.65 L551.12,780.55 L551.50,779.45 L551.87,778.34 L552.23,777.24 L552.59,776.14 L552.93,775.03 L553.27,773.93 L553.60,772.82 L553.93,771.71 L554.24,770.61 L554.55,769.50 L554.86,768.40 L555.15,767.29 L555.44,766.18 L555.72,765.08 L556.00,763.97 L556.27,762.86 L556.54,761.75 L556.80,760.64 L557.05,759.53 L557.30,758.42 L557.54,757.31 L557.78,756.20 L558.02,755.09 L558.25,753.98 L558.47,752.87 L558.69,751.76 L558.91,750.65 L559.12,749.53 L559.33,748.42 L559.54,747.31 L559.74,746.19 L559.94,745.08 L560.13,743.96 L560.33,742.85 L560.52,741.73 L560.70,740.62 L560.89,739.50 L561.07,738.38 L561.25,737.27 L561.43,736.15 L561.61,735.03 L561.79,733.91 L561.96,732.79 L562.13,731.67 L562.31,730.55 L562.48,729.43 L562.65,728.30 L562.82,727.18 L562.99,726.06 L563.16,724.93 L563.33,723.81 L563.49,722.69 L563.66,721.56 L563.83,720.44 L563.99,719.31 L564.15,718.18 L564.32,717.06 L564.48,715.93 L564.64,714.80 L564.80,713.67 L564.96,712.54 L565.12,711.42 L565.28,710.29 L565.44,709.16 L565.59,708.03 L565.75,706.90 L565.90,705.77 L566.06,704.63 L566.21,703.50 L566.36,702.37 L566.52,701.24 L566.67,700.11 L566.82,698.97 L566.97,697.84 L567.11,696.71 L567.26,695.58 L567.41,694.44 L567.55,693.31 L567.70,692.17 L567.84,691.04 L567.99,689.91 L568.13,688.77 L568.27,687.64 L568.41,686.50 L568.55,685.37 L568.69,684.23 L568.83,683.10 L568.96,681.96 L569.10,680.83 L569.23,679.69 L569.37,678.56 L569.50,677.42 L569.63,676.29 L569.76,675.15 L569.89,674.02 L570.02,672.88 L570.15,671.74 L570.28,670.61 L570.41,669.47 L570.53,668.34 L570.66,667.20 L570.78,666.07 L570.90,664.93 L571.03,663.80 L571.15,662.66 L571.27,661.53 L571.39,660.39 L571.50,659.26 L571.62,658.12 L571.74,656.99 L571.85,655.85 L571.97,654.72 L572.08,653.59 L572.19,652.45 L572.30,651.32 L572.41,650.18 L572.52,649.05 L572.63,647.92 L572.74,646.79 L572.84,645.65 L572.95,644.52 L573.05,643.39 L573.15,642.26 L573.25,641.13 L573.36,639.99 L573.46,638.86 L573.55,637.73 L573.65,636.60 L573.75,635.47 L573.84,634.34 L573.94,633.21 L574.03,632.09 L574.12,630.96 L574.22,629.83" fill="none" stroke="#000" stroke-width="3"/>
<path d="M356.8,628.8000000000001V802.55" stroke="#666" stroke-width="1.3"/><path d="M601.7,628.8000000000001V802.55" stroke="#222" stroke-width="1.3"/><path d="M356.15000000000003,629.45H602.35" stroke="#1a1a1a" stroke-width="1.3"/><path d="M356.15000000000003,801.9H602.35" stroke="#333" stroke-width="1.3"/>
<path d="M392.42,801.9v-11 M436.95,801.9v-5.5 M481.48,801.9v-11 M526.00,801.9v-5.5 M570.53,801.9v-11 M601.7,767.41h-5.5 M601.7,732.92h-11 M601.7,698.43h-5.5 M601.7,663.94h-11 M601.7,629.45h-5.5" stroke="#000" stroke-width="2.4"/>
<text y="827.90" font-size="28.5" fill="#000" stroke="#000" stroke-width="0.4"><tspan x="371.05">2</tspan><tspan x="385.30">0</tspan><tspan x="399.55">0</tspan></text>
<text y="827.90" font-size="28.5" fill="#000" stroke="#000" stroke-width="0.4"><tspan x="460.10">4</tspan><tspan x="474.35">0</tspan><tspan x="488.60">0</tspan></text>
<text y="827.90" font-size="28.5" fill="#000" stroke="#000" stroke-width="0.4"><tspan x="549.16">6</tspan><tspan x="563.41">0</tspan><tspan x="577.66">0</tspan></text>
<text y="742.42" font-size="28.5" fill="#000" stroke="#000" stroke-width="0.4"><tspan x="608.50">1</tspan></text>
<text y="673.44" font-size="28.5" fill="#000" stroke="#000" stroke-width="0.4"><tspan x="608.50">2</tspan></text>
<text transform="translate(470.69,857.10) skewX(-4.5) scale(1.06,1)" font-size="30.5" font-style="italic" fill="#000" stroke="#000" stroke-width="0.4">E</text>
<text transform="translate(653.9,1000) rotate(-90) translate(224.74,0.00) skewX(-4.5) scale(1.0,1)" font-size="33" font-style="italic" fill="#000" stroke="#000" stroke-width="0.4">β</text><text transform="translate(653.9,1000) rotate(-90) translate(243.62,-10.40) skewX(0) scale(1.0,1)" font-size="18" fill="#000" stroke="#000" stroke-width="0.4">*</text><text transform="translate(653.9,1000) rotate(-90) translate(251.35,0.00) skewX(0) scale(1.0,1)" font-size="33" fill="#000" stroke="#000" stroke-width="0.4">Δ</text><text transform="translate(653.9,1000) rotate(-90) translate(272.02,0.00) skewX(-4.5) scale(1.03,1)" font-size="33" font-style="italic" fill="#000" stroke="#000" stroke-width="0.4">F</text><text transform="translate(653.9,1000) rotate(-90) translate(297.90,0.00) skewX(0) scale(1.0,1)" font-size="33" fill="#000" stroke="#000" stroke-width="0.4">(</text><text transform="translate(653.9,1000) rotate(-90) translate(309.39,0.00) skewX(-4.5) scale(1.06,1)" font-size="33" font-style="italic" fill="#000" stroke="#000" stroke-width="0.4">E</text><text transform="translate(653.9,1000) rotate(-90) translate(333.88,0.00) skewX(0) scale(1.0,1)" font-size="33" fill="#000" stroke="#000" stroke-width="0.4">)</text>
</svg>
</body></html>
